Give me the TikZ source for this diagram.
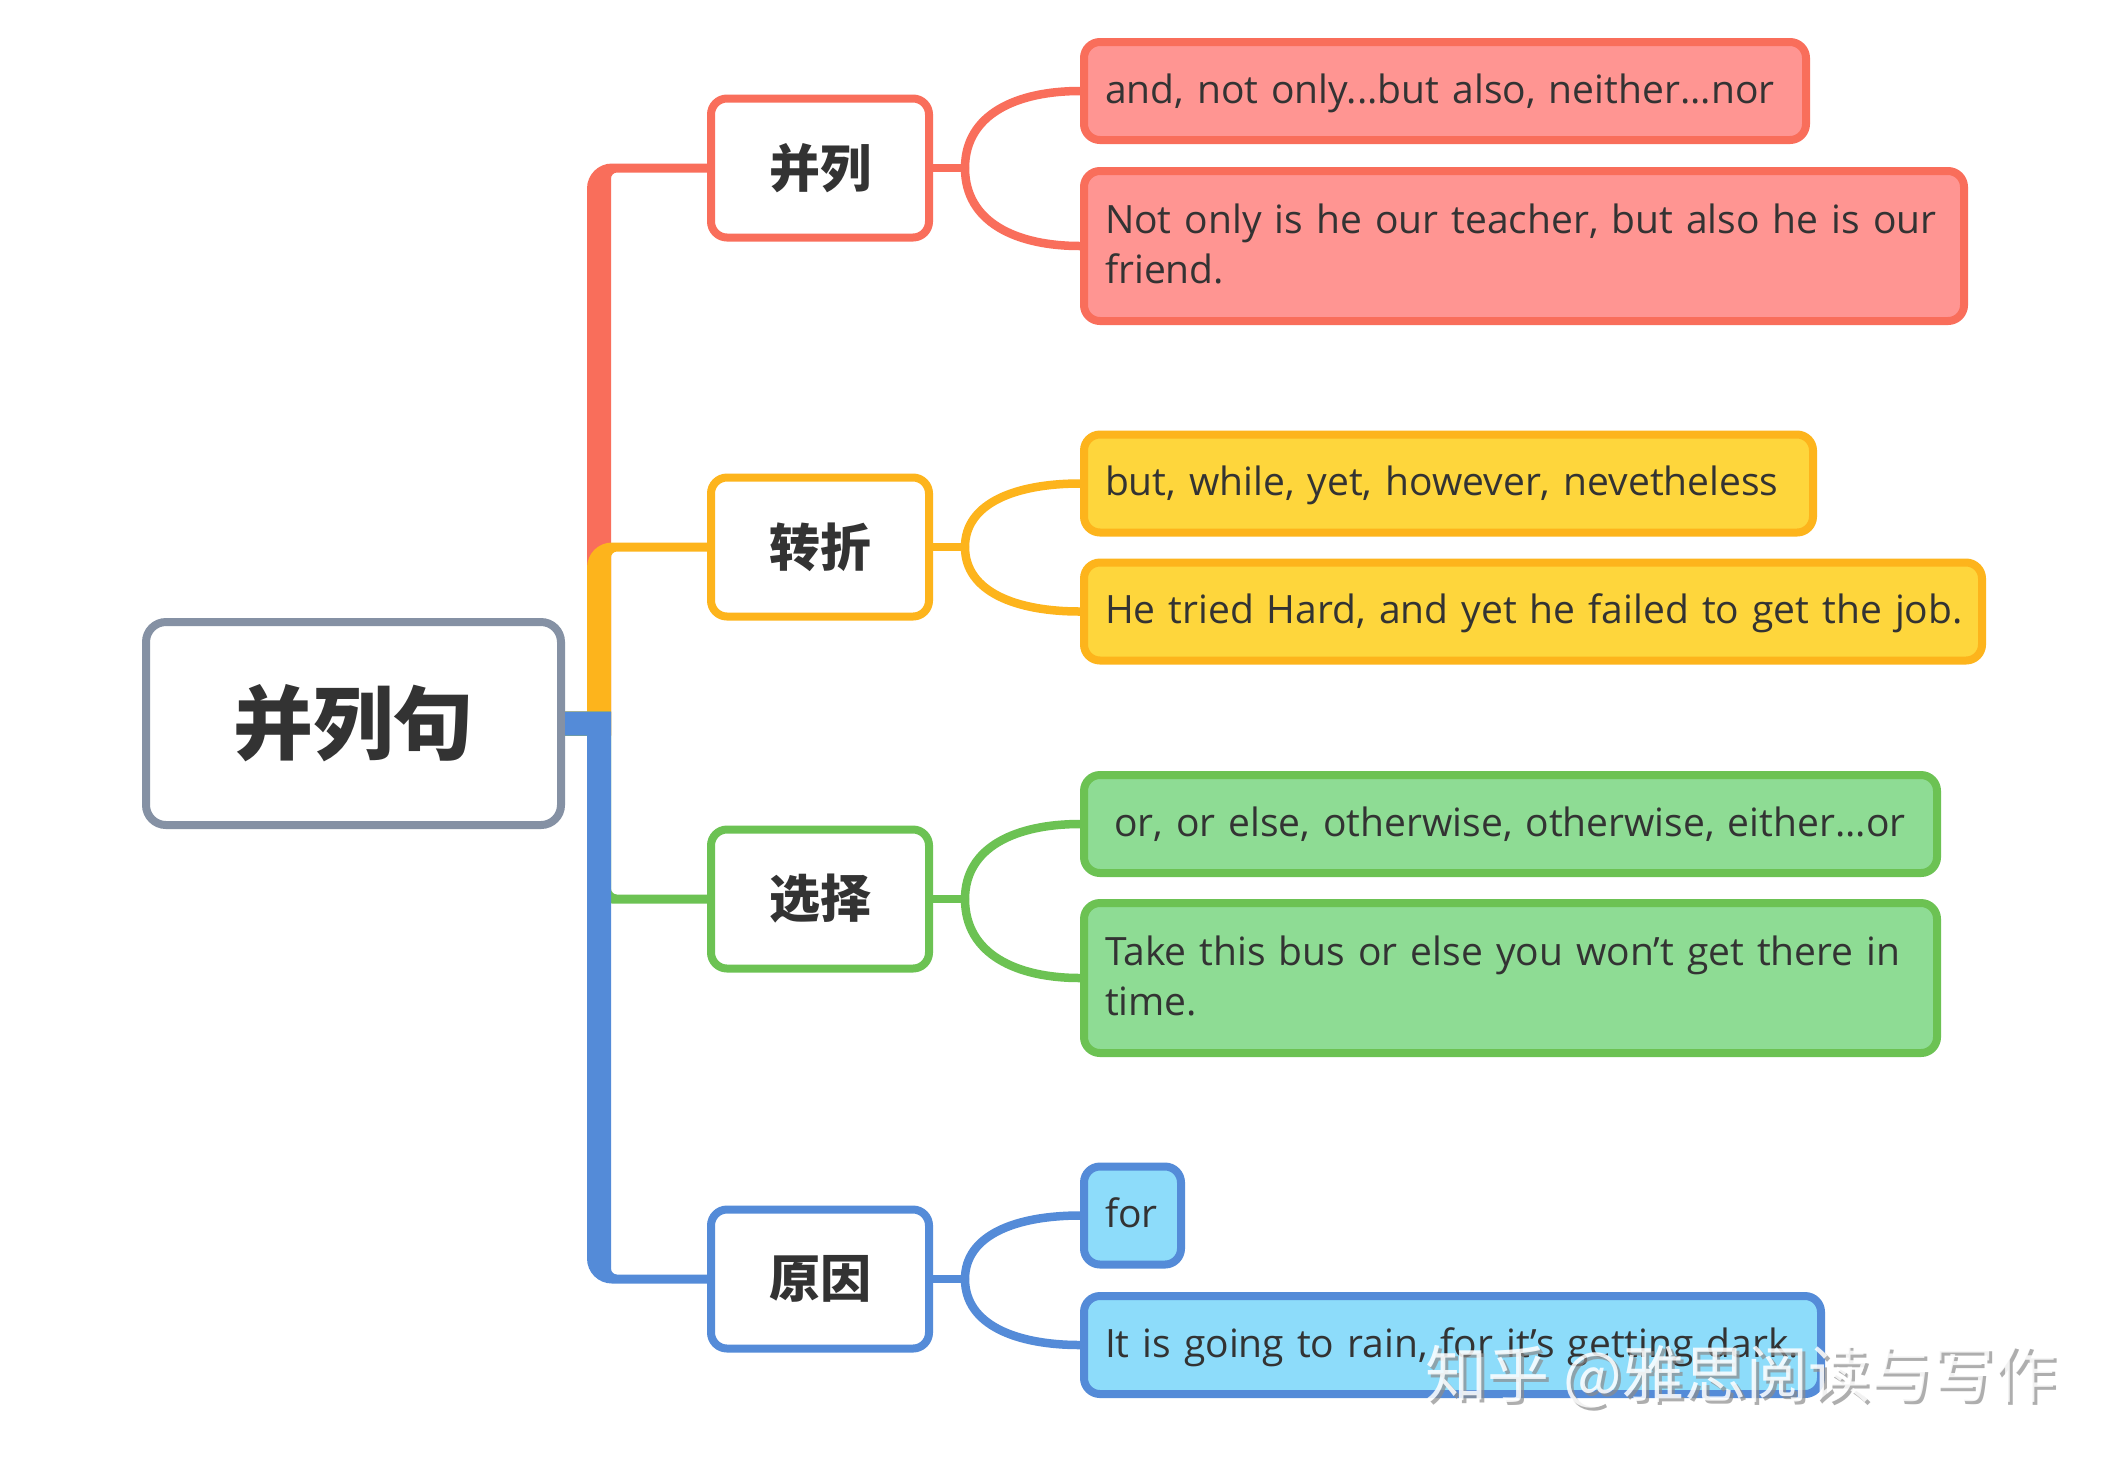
\documentclass[tikz,border=0pt]{standalone}
\usepackage{fontspec}
\setmainfont{Open Sans}
\newfontfamily\cjk{Noto Sans CJK SC}
\usetikzlibrary{calc}
\definecolor{cR}{HTML}{F96E5B}
\definecolor{fR}{HTML}{FF9592}
\definecolor{cY}{HTML}{FDB41C}
\definecolor{fY}{HTML}{FED63C}
\definecolor{cG}{HTML}{6CC253}
\definecolor{fG}{HTML}{8EDC94}
\definecolor{cB}{HTML}{548BD8}
\definecolor{fB}{HTML}{8DDCFA}
\definecolor{cGr}{HTML}{8591A4}
\definecolor{txt}{HTML}{333333}
\newcommand{\brUp}[2]{\fill[#1] let \p1=(root.east), \p2=(#2.west), \p3=(trunk) in
  (\x1,\y1+6pt) -- (\x3-6pt,\y1+6pt) -- (\x3-6pt,\y2+2.25pt-12.5pt)
  arc[start angle=180,end angle=90,radius=12.5pt] -- (\x2,\y2+2.25pt) -- (\x2,\y2-2.25pt)
  -- (\x3+9pt,\y2-2.25pt) arc[start angle=90,end angle=180,radius=3pt]
  -- (\x3+6pt,\y1-6pt) -- (\x1,\y1-6pt) -- cycle;}
\newcommand{\brDown}[2]{\fill[#1] let \p1=(root.east), \p2=(#2.west), \p3=(trunk) in
  (\x1,\y1+6pt) -- (\x3+6pt,\y1+6pt) -- (\x3+6pt,\y2+5.25pt)
  arc[start angle=180,end angle=270,radius=3pt] -- (\x2,\y2+2.25pt) -- (\x2,\y2-2.25pt)
  -- (\x3+6.5pt,\y2-2.25pt) arc[start angle=270,end angle=180,radius=12.5pt]
  -- (\x3-6pt,\y1-6pt) -- (\x1,\y1-6pt) -- cycle;}
\newcommand{\forkcurve}[3]{\draw[conn=#1] (#2) .. controls ($(#2)!0.7!(#2 |- #3.west)$) and ($(#3.west)!0.55!(#2 |- #3.west)$) .. (#3.west);}
\begin{document}
\begin{tikzpicture}[x=0.5pt,y=-0.5pt,
  rootbox/.style={draw=cGr, line width=4pt, fill=white, rounded corners=10pt,
    minimum width=207.5pt, minimum height=101.5pt, inner sep=0pt,
    font=\cjk\bfseries\fontsize{40pt}{48pt}\selectfont, text=txt},
  brbox/.style={draw=#1, line width=4pt, fill=white, rounded corners=8pt,
    minimum width=109pt, minimum height=69.5pt, inner sep=0pt,
    font=\cjk\bfseries\fontsize{25.5pt}{30pt}\selectfont, text=txt},
  leaf/.style 2 args={draw=#1, fill=#2, line width=4pt, rounded corners=8pt,
    anchor=west, inner xsep=10.5pt, inner ysep=0pt, minimum height=49pt,
    align=left, font=\fontsize{19.5pt}{25pt}\selectfont, text=txt,
    text height=14.5pt, text depth=2.5pt},
  twoline/.style={minimum height=75pt, text depth=27.5pt},
  conn/.style={draw=#1, line width=4.25pt}
]
\useasboundingbox (0,0) rectangle (2113,1464);
\fill[white] (0,0) rectangle (2113,1464);
\coordinate (trunk) at (599,722);
% nodes
\node[rootbox] (root) at (353.5,723.5) {并列句};
\node[brbox=cR] (b1) at (820,168) {并列};
\node[brbox=cY] (b2) at (820,547) {转折};
\node[brbox=cG] (b3) at (820,899) {选择};
\node[brbox=cB] (b4) at (820,1279) {原因};
\node[leaf={cR}{fR}, text width=340pt] (l1a) at (1080,91) {\mbox{and, not only...but also, neither...nor}};
\node[leaf={cR}{fR}, twoline, text width=419pt] (l1b) at (1080,246) {\mbox{Not only is he our teacher, but also he is our}\\friend.};
\node[leaf={cY}{fY}, text width=343.5pt] (l2a) at (1080,483.5) {\mbox{but, while, yet, however, nevetheless}};
\node[leaf={cY}{fY}, text width=428pt] (l2b) at (1080,611.5) {\mbox{He tried Hard, and yet he failed to get the job.}};
\node[leaf={cG}{fG}, text width=405.5pt] (l3a) at (1080,824) {\hspace*{4.5pt}\mbox{or, or else, otherwise, otherwise, either...or}};
\node[leaf={cG}{fG}, twoline, text width=405.5pt] (l3b) at (1080,978) {\mbox{Take this bus or else you won't get there in}\\time.};
\node[leaf={cB}{fB}, text width=27.5pt] (l4a) at (1080,1215.5) {\mbox{for}};
\node[leaf={cB}{fB}, text width=347.5pt] (l4b) at (1080,1345) {\mbox{It is going to rain, for it’s getting dark.}};
% trunk branches
\brUp{cR}{b1}
\brUp{cY}{b2}
\brDown{cG}{b3}
\brDown{cB}{b4}
% forks
\foreach \b/\c/\la/\lb in {b1/cR/l1a/l1b, b2/cY/l2a/l2b, b3/cG/l3a/l3b, b4/cB/l4a/l4b}{
  \coordinate (f\b) at ([xshift=16pt]\b.east);
  \draw[conn=\c] (\b.east) -- (f\b);
  \forkcurve{\c}{f\b}{\la}
  \forkcurve{\c}{f\b}{\lb}
}
% watermark
\node[font=\cjk\fontsize{31pt}{31pt}\selectfont, text=black!45, opacity=0.7] (wms) at (1744,1380) {知乎 @雅思阅读与写作};
\node[font=\cjk\fontsize{31pt}{31pt}\selectfont, text=white, opacity=0.85] (wm) at (1741,1377) {知乎 @雅思阅读与写作};
\end{tikzpicture}
\end{document}
